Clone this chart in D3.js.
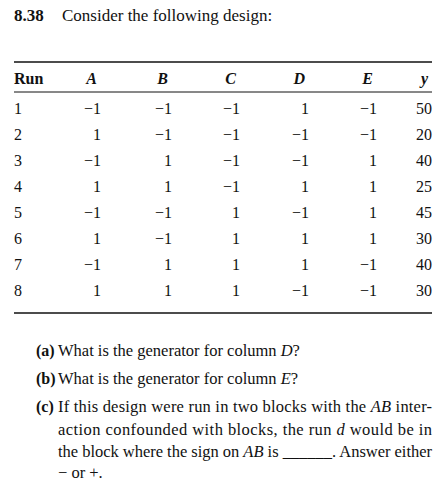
<!DOCTYPE html><html><head><meta charset="utf-8"><script src="https://cdn.jsdelivr.net/npm/d3@7"></script>
<style>body{margin:0;background:#fff}svg{font-family:"Liberation Serif",serif;fill:#111}</style></head><body>
<svg width="446" height="492"></svg>
<script>
const headers=["Run","A","B","C","D","E","y"];
const runs=[1,2,3,4,5,6,7,8];
const colA=[-1,1,-1,1,-1,1,-1,1];
const colB=[-1,-1,1,1,-1,-1,1,1];
const colC=[-1,-1,-1,-1,1,1,1,1];
const colD=[1,-1,-1,1,-1,1,1,-1];
const colE=[-1,-1,1,1,1,1,-1,-1];
const colY=[50,20,40,25,45,30,40,30];
const cols=[runs,colA,colB,colC,colD,colE,colY];
const svg=d3.select("svg");
const fmt=v=>v<0?"\u2212"+(-v):String(v);
svg.append("text").attr("x",14).attr("y",21).attr("font-size",17).attr("font-weight","bold").text("8.38");
svg.append("text").attr("x",62).attr("y",21).attr("font-size",17).text("Consider the following design:");
const x=d3.scaleOrdinal().domain(headers).range([14,101,172,240,309,377,432]);
const y=d3.scaleBand().domain(runs).range([96,304]);
[62,92,313].forEach((ly,i)=>svg.append("line").attr("x1",14).attr("x2",432).attr("y1",ly).attr("y2",ly).attr("stroke","#111").attr("stroke-width",i==1?1:1.6));
headers.forEach((h,i)=>{svg.append("text").attr("x",i==0?14:x(h)-4).attr("y",84).attr("font-size",16).attr("font-weight","bold")
 .attr("font-style",i?"italic":"normal").attr("text-anchor",i==0?"start":"end").text(h);});
cols.forEach((c,i)=>c.forEach((v,j)=>svg.append("text").attr("x",x(headers[i])).attr("y",y(runs[j])+y.bandwidth()/2+5)
 .attr("font-size",16).attr("text-anchor",i==0?"start":"end").text(i==0?v:fmt(v))));
const q=[["(a)",356,[["What is the generator for column ",""],["D","i"],["?",""]]],
["(b)",384,[["What is the generator for column ",""],["E","i"],["?",""]]],
["(c)",412,[["If this design were run in two blocks with the ",""],["AB","i"],[" inter-",""]]],
[null,435,[["action confounded with blocks, the run ",""],["d","i"],[" would be in",""]]],
[null,457,[["the block where the sign on ",""],["AB","i"],[" is ______. Answer either",""]]],
[null,478,[["\u2212 or +.",""]]]];
q.forEach(([lab,yy,parts],k)=>{
 if(lab)svg.append("text").attr("x",36).attr("y",yy).attr("font-size",16).attr("font-weight","bold").text(lab);
 const t=svg.append("text").attr("x",58).attr("y",yy).attr("font-size",16.5);
 if(k>=2&&k<=4)t.attr("textLength",374).attr("lengthAdjust","spacing");
 parts.forEach(([s,st])=>t.append("tspan").attr("font-style",st?"italic":"normal").text(s));
});
</script></body></html>
